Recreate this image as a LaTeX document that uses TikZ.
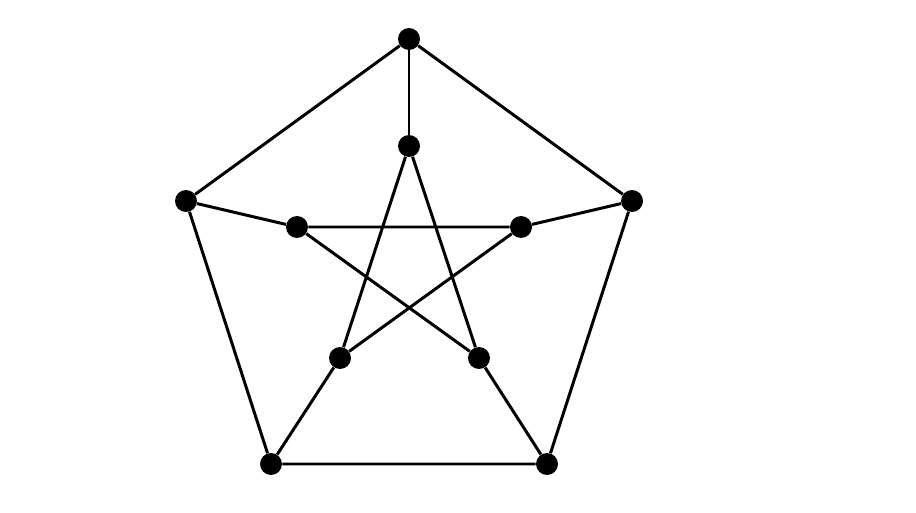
\documentclass[tikz,border=0pt]{standalone}
\usepackage{amsmath}
\usepackage{tikz}
\usetikzlibrary{shapes,arrows}

\begin{document}
\begin{tikzpicture}[x=0.02cm,y=-0.02cm,
    vertex/.style={circle,fill=black,inner sep=0pt,minimum size=0.44cm},
    edge/.style={line width=1.7pt}]
    \useasboundingbox (0,0) rectangle (916,513);
    % outer pentagon
    \foreach \name/\x/\y in {o1/409/39, o2/632/201, o3/547/464, o4/271/464, o5/186/201}
      \node[vertex] (\name) at (\x,\y) {};
    % inner star
    \foreach \name/\x/\y in {i1/409/146, i2/521/227, i3/479/358, i4/340/358, i5/297/227}
      \node[vertex] (\name) at (\x,\y) {};
    \draw[edge] (o1) -- (o2) -- (o3) -- (o4) -- (o5) -- (o1);
    \foreach \k in {1,...,5} \draw[edge] (o\k) -- (i\k);
    \draw[edge] (i1) -- (i3) -- (i5) -- (i2) -- (i4) -- (i1);
  \end{tikzpicture}
\end{document}
